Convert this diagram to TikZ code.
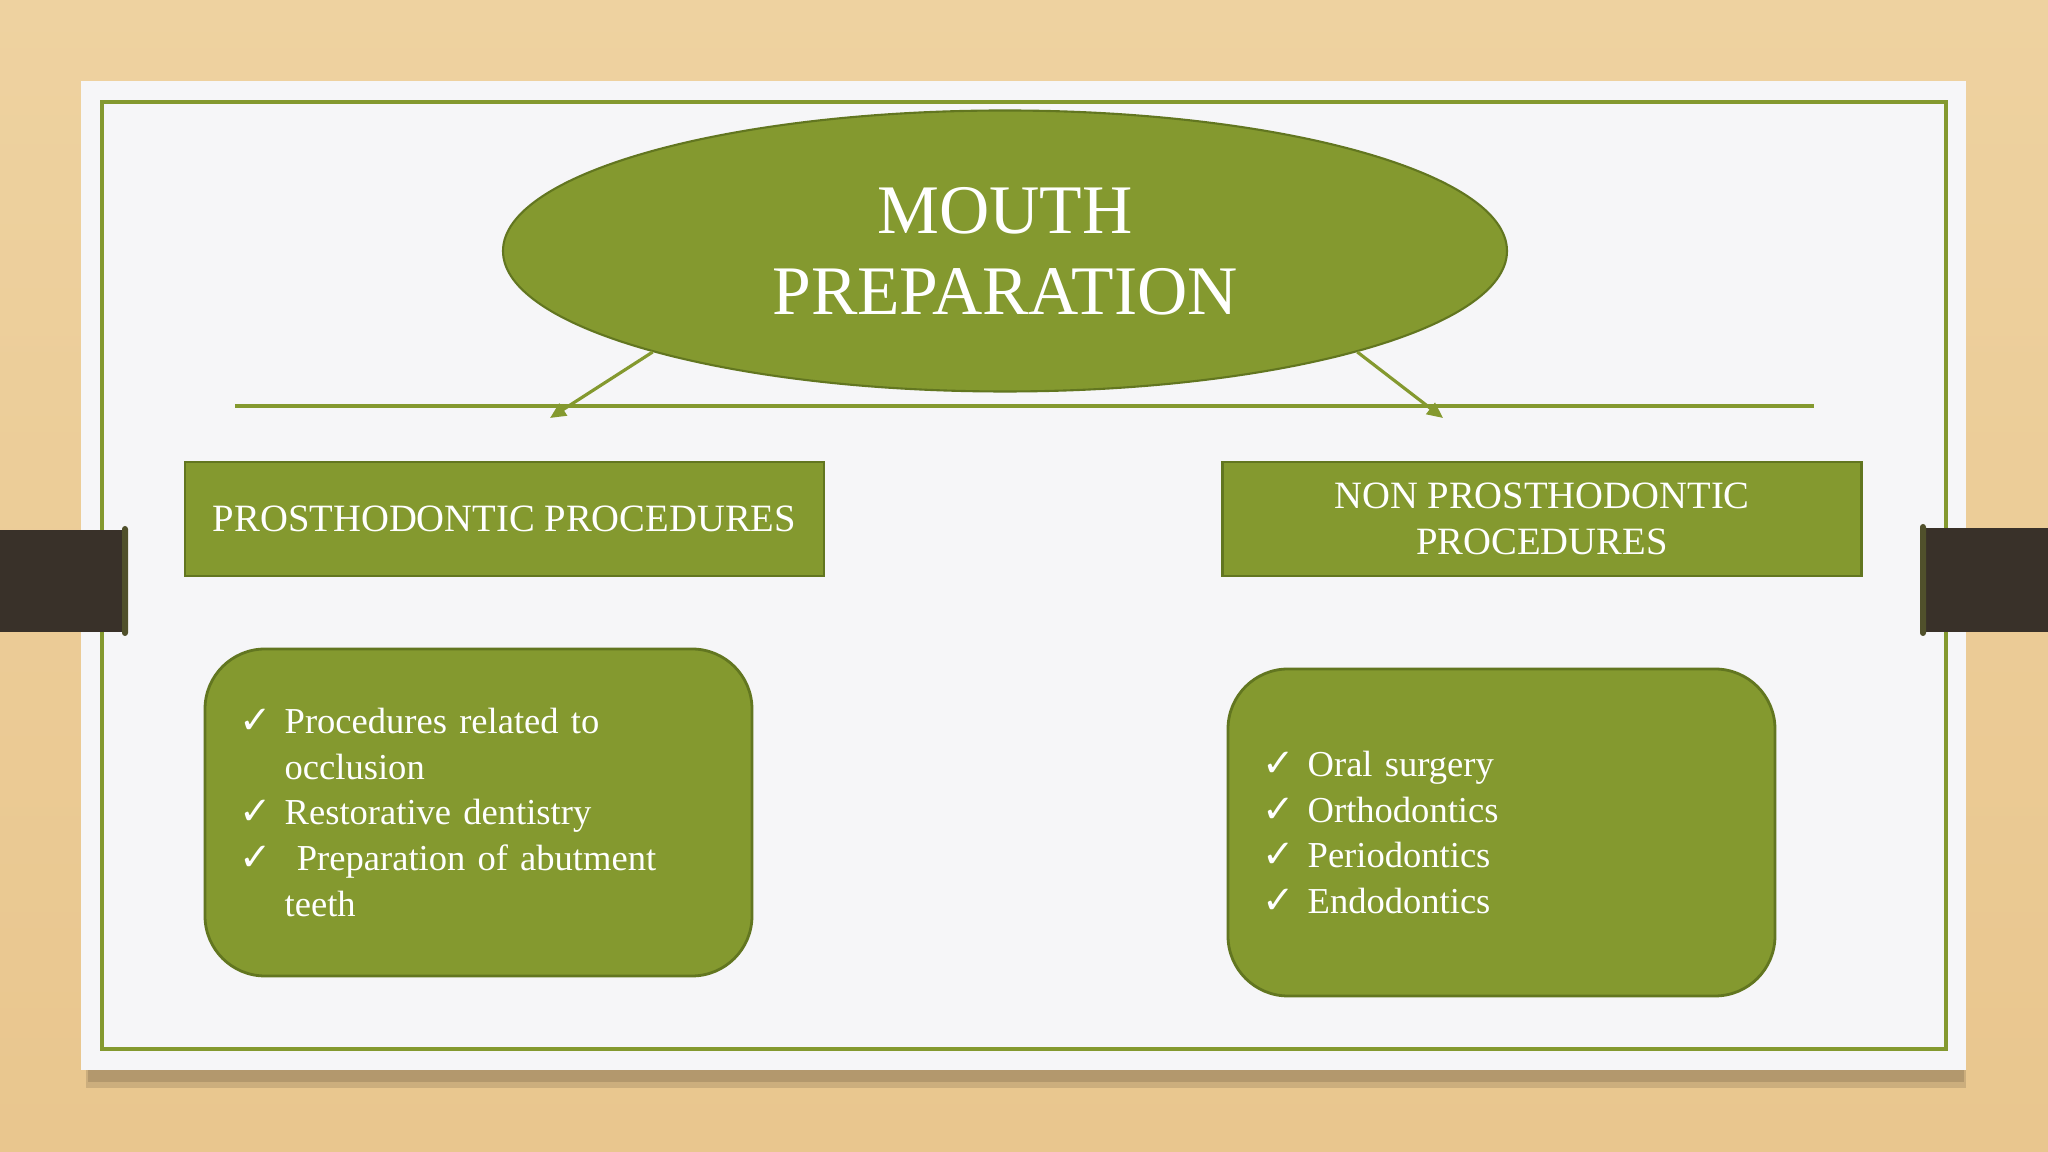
\documentclass[tikz,border=0pt]{standalone}
\usepackage{fontspec}
\setmainfont{Liberation Serif}
\newfontfamily\symfont{DejaVu Sans}
\usetikzlibrary{shapes.geometric,arrows.meta}

\definecolor{wood}{RGB}{233,198,142}
\definecolor{woodlight}{RGB}{238,210,160}
\definecolor{card}{RGB}{246,246,248}
\definecolor{olive}{RGB}{132,153,47}
\definecolor{olivedark}{RGB}{98,118,32}
\definecolor{tab}{RGB}{57,49,41}

\newcommand{\chk}{\makebox[13pt][l]{\symfont\fontsize{11}{13}\selectfont ✓}}

\begin{document}
\begin{tikzpicture}[
thick,
bigoval/.style={
    ellipse,
    draw=olivedark,
    line width=0.6pt,
    fill=olive,
    text=white,
    inner sep=0pt,
    minimum width=10.04cm,
    minimum height=2.81cm,
    align=center,
    font=\fontsize{19.8}{23}\selectfont
    },
headbox/.style={
    rectangle,
    draw=olivedark,
    line width=0.8pt,
    fill=olive,
    text=white,
    inner sep=0pt,
    minimum width=6.39cm,
    minimum height=1.14cm,
    align=center,
    font=\fontsize{11}{13}\selectfont
    },
listbox/.style={
    rectangle,
    rounded corners=0.6cm,
    draw=olivedark,
    line width=0.8pt,
    fill=olive,
    text=white,
    inner xsep=0.34cm,
    inner ysep=0pt,
    text width=4.79cm,
    minimum height=3.27cm,
    align=left,
    font=\fontsize{10.4}{13}\selectfont
    },
conn/.style={
    draw=olive,
    line width=0.9pt,
    -{Triangle[length=4.5pt,width=4pt]}
    },
]
\useasboundingbox (0,0) rectangle (20.48,11.52);
\shade[top color=woodlight, bottom color=wood] (0,0) rectangle (20.48,11.52);

% card with its frame
\fill[black, opacity=0.12] (0.86,0.64) rectangle (19.66,0.82);
\fill[black, opacity=0.12] (0.88,0.70) rectangle (19.64,0.82);
\fill[card] (0.81,0.82) rectangle (19.66,10.71);
\draw[olive, line width=0.9pt] (1.02,1.03) rectangle (19.46,10.50);

% side tabs
\begin{scope}
    \fill[tab] (0,5.20) rectangle (1.25,6.22);
    \fill[tab!70!olive, rounded corners=0.03cm] (1.22,5.16) rectangle (1.28,6.26);
\end{scope}
\begin{scope}
    \fill[tab] (19.23,5.20) rectangle (20.48,6.24);
    \fill[tab!70!olive, rounded corners=0.03cm] (19.20,5.16) rectangle (19.26,6.28);
\end{scope}

\node[bigoval] (mouth) at (10.05,9.01) {MOUTH\\PREPARATION};

\coordinate (rule west) at (2.35,7.46);
\coordinate (rule east) at (18.14,7.46);
\draw[olive, line width=0.9pt] (rule west) -- (rule east);

\coordinate (ltip) at (5.50,7.34);
\coordinate (rtip) at (14.43,7.34);
\draw[conn] (mouth.196) -- (ltip);
\draw[conn] (mouth.344) -- (rtip);

\node[headbox] (prost) at (5.045,6.33) {PROSTHODONTIC PROCEDURES};
\node[headbox] (nonprost) at (15.42,6.33) {NON PROSTHODONTIC\\PROCEDURES};

\node[listbox] (prostlist) at (4.785,3.395) {%
    \chk Procedures related to\\
    \hspace*{13pt}occlusion\\
    \chk Restorative dentistry\\
    \chk\ Preparation of abutment\\
    \hspace*{13pt}teeth};
\node[listbox] (nonprostlist) at (15.015,3.195) {%
    \chk Oral surgery\\
    \chk Orthodontics\\
    \chk Periodontics\\
    \chk Endodontics};
\end{tikzpicture}
\end{document}
